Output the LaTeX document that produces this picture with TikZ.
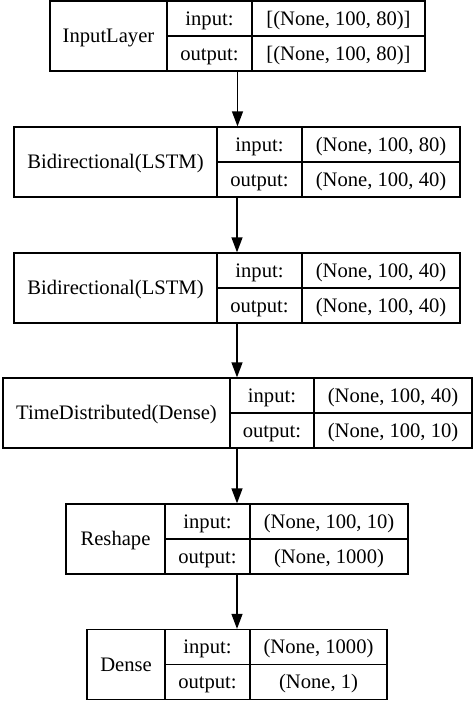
\documentclass[tikz,border=0pt]{standalone}
\usepackage{fontspec}
\setmainfont{Liberation Serif}
\usetikzlibrary{arrows.meta}
\tikzset{fr/.style = {draw, line width=1.3pt, inner sep=0pt, minimum height=70pt},
           ttl/.style = {inner sep=0pt, text height=16.5pt, text depth=3pt},
           cl/.style = {draw, line width=1.3pt, inner sep=0pt, minimum height=35pt,
                        text height=16.5pt, text depth=3pt}}

\begin{document}
\begin{tikzpicture}[x=1pt, y=-1pt, font=\fontsize{20.6}{24}\selectfont,
                    >={Triangle[length=15pt, width=11pt]}]
    \useasboundingbox (0,0) rectangle (474,702);
    % InputLayer
    \node[fr, minimum width=375pt] (l1) at (237.5,36) {};
    \node[ttl] (l1n) at (108.5,36) {InputLayer};
    \node[cl, minimum width=85pt] (l1i) at (209.5,18.5) {input:};
    \node[cl, minimum width=85pt] (l1o) at (209.5,53.5) {output:};
    \node[cl, minimum width=173pt] (l1iv) at (338.5,18.5) {[(None, 100, 80)]};
    \node[cl, minimum width=173pt] (l1ov) at (338.5,53.5) {[(None, 100, 80)]};
    % Bidirectional 1
    \node[fr, minimum width=446pt] (l2) at (237,162) {};
    \node[ttl] (l2n) at (115.5,162) {Bidirectional(LSTM)};
    \node[cl, minimum width=85pt] (l2i) at (259.5,144.5) {input:};
    \node[cl, minimum width=85pt] (l2o) at (259.5,179.5) {output:};
    \node[cl, minimum width=158pt] (l2iv) at (381,144.5) {(None, 100, 80)};
    \node[cl, minimum width=158pt] (l2ov) at (381,179.5) {(None, 100, 40)};
    % Bidirectional 2
    \node[fr, minimum width=446pt] (l3) at (237,288) {};
    \node[ttl] (l3n) at (115.5,288) {Bidirectional(LSTM)};
    \node[cl, minimum width=85pt] (l3i) at (259.5,270.5) {input:};
    \node[cl, minimum width=85pt] (l3o) at (259.5,305.5) {output:};
    \node[cl, minimum width=158pt] (l3iv) at (381,270.5) {(None, 100, 40)};
    \node[cl, minimum width=158pt] (l3ov) at (381,305.5) {(None, 100, 40)};
    % TimeDistributed
    \node[fr, minimum width=469pt] (l4) at (237.5,413) {};
    \node[ttl] (l4n) at (116.5,413) {TimeDistributed(Dense)};
    \node[cl, minimum width=84pt] (l4i) at (272,395.5) {input:};
    \node[cl, minimum width=84pt] (l4o) at (272,430.5) {output:};
    \node[cl, minimum width=158pt] (l4iv) at (393,395.5) {(None, 100, 40)};
    \node[cl, minimum width=158pt] (l4ov) at (393,430.5) {(None, 100, 10)};
    % Reshape
    \node[fr, minimum width=342pt] (l5) at (237,539) {};
    \node[ttl] (l5n) at (115.5,539) {Reshape};
    \node[cl, minimum width=85pt] (l5i) at (207.5,521.5) {input:};
    \node[cl, minimum width=85pt] (l5o) at (207.5,556.5) {output:};
    \node[cl, minimum width=158pt] (l5iv) at (329,521.5) {(None, 100, 10)};
    \node[cl, minimum width=158pt] (l5ov) at (329,556.5) {(None, 1000)};
    % Dense
    \node[fr, minimum width=300pt] (l6) at (237,664.5) {};
    \node[ttl] (l6n) at (126,664.5) {Dense};
    \node[cl, minimum width=85pt] (l6i) at (207.5,647) {input:};
    \node[cl, minimum width=85pt] (l6o) at (207.5,682) {output:};
    \node[cl, minimum width=137pt] (l6iv) at (318.5,647) {(None, 1000)};
    \node[cl, minimum width=137pt] (l6ov) at (318.5,682) {(None, 1)};
    % arrows
    \draw[->, line width=1.3pt] (l1.south) -- (l1.south |- l2.north);
    \draw[->, line width=1.3pt] (l2) -- (l3);
    \draw[->, line width=1.3pt] (l3) -- (l4.north -| l3.south);
    \draw[->, line width=1.3pt] (l4.south -| l5.north) -- (l5);
    \draw[->, line width=1.3pt] (l5) -- (l6);
\end{tikzpicture}
\end{document}
